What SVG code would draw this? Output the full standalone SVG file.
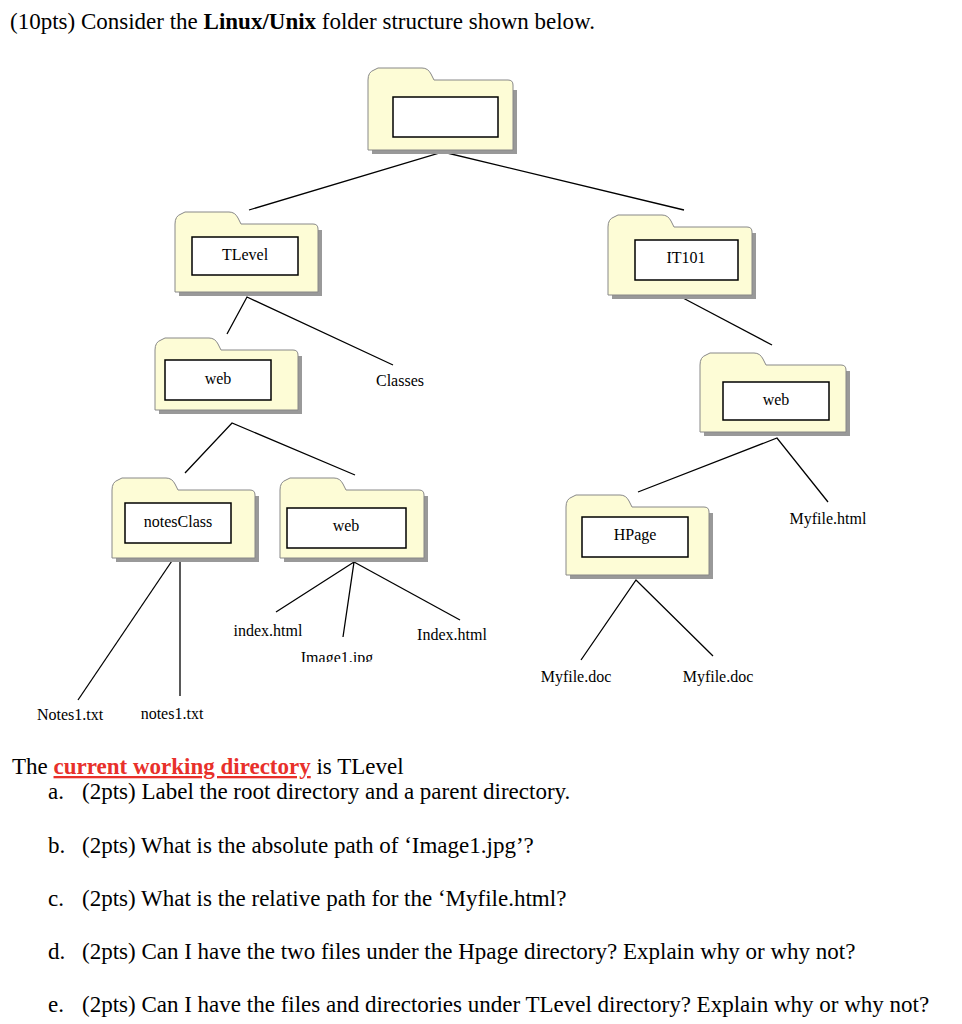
<svg xmlns="http://www.w3.org/2000/svg" width="962" height="1024" viewBox="0 0 962 1024">
<style>
.f{fill:#fdfcd6;stroke:#888;stroke-width:1}
.s{fill:#999}
.b{fill:#fff;stroke:#000;stroke-width:1.5}
.t{font-family:"Liberation Serif",serif;font-size:16px;fill:#000}
.q{font-family:"Liberation Serif",serif;font-size:23px;fill:#000}
#c line,#c polyline{stroke:#000;stroke-width:1.3;fill:none}
</style>
<defs>
<clipPath id="cl"><rect x="280" y="640" width="120" height="22"/></clipPath>
</defs>
<rect width="962" height="1024" fill="#fff"/>
<text class="q" x="10" y="29">(10pts) Consider the <tspan font-weight="bold">Linux/Unix</tspan> folder structure shown below.</text>
<g id="c">
<polyline points="249,210 443,152 684,210"/>
<polyline points="227,334 247,297 393,365"/>
<line x1="683" y1="298" x2="772" y2="345"/>
<polyline points="185,473 232,423 355,475"/>
<polyline points="638,492 777,438 828,502"/>
<line x1="78" y1="700" x2="180" y2="549"/>
<line x1="180" y1="549" x2="180" y2="696"/>
<polyline points="276,612 354,562 343,637"/>
<line x1="354" y1="562" x2="460" y2="620"/>
<polyline points="581,660 636,580 713,656"/>
</g>
<g id="root"><path class="s" d="M372,90 h145 v64 h-145z"/><path class="f" d="M368,150 V80 Q368,72 374,70 L378,68 H422 Q428,68 431,74 L434,80 H508 Q513,80 513,85 V150 Z"/><rect class="b" x="393" y="97" width="105" height="40"/></g>
<g id="tlevel"><path class="s" d="M179,230 h143 v66 h-143z"/><path class="f" d="M175,292 V224 Q175,216 181,214 L185,212 H229 Q235,212 238,218 L241,224 H313 Q318,224 318,229 V292 Z"/><rect class="b" x="192" y="237" width="106" height="38"/><text class="t" x="245" y="260" text-anchor="middle">TLevel</text></g>
<g id="it101"><path class="s" d="M612,233 h144 v66 h-144z"/><path class="f" d="M608,295 V227 Q608,219 614,217 L618,215 H662 Q668,215 671,221 L674,227 H747 Q752,227 752,232 V295 Z"/><rect class="b" x="635" y="240" width="103" height="40"/><text class="t" x="686" y="263" text-anchor="middle">IT101</text></g>
<g id="web1"><path class="s" d="M159,356 h143 v58 h-143z"/><path class="f" d="M155,410 V350 Q155,342 161,340 L165,338 H209 Q215,338 218,344 L221,350 H293 Q298,350 298,355 V410 Z"/><rect class="b" x="165" y="360" width="106" height="40"/><text class="t" x="218" y="384" text-anchor="middle">web</text></g>
<text class="t" x="400" y="386" text-anchor="middle">Classes</text>
<g id="web2"><path class="s" d="M704,371 h146 v65 h-146z"/><path class="f" d="M700,432 V365 Q700,357 706,355 L710,353 H754 Q760,353 763,359 L766,365 H841 Q846,365 846,370 V432 Z"/><rect class="b" x="723" y="382" width="106" height="38"/><text class="t" x="776" y="405" text-anchor="middle">web</text></g>
<text class="t" x="828" y="524" text-anchor="middle">Myfile.html</text>
<g id="notesclass"><path class="s" d="M116,496 h143 v66 h-143z"/><path class="f" d="M112,558 V490 Q112,482 118,480 L122,478 H166 Q172,478 175,484 L178,490 H250 Q255,490 255,495 V558 Z"/><rect class="b" x="125" y="503" width="106" height="40"/><text class="t" x="178" y="527" text-anchor="middle">notesClass</text></g>
<g id="web3"><path class="s" d="M284,496 h144 v66 h-144z"/><path class="f" d="M280,558 V490 Q280,482 286,480 L290,478 H334 Q340,478 343,484 L346,490 H419 Q424,490 424,495 V558 Z"/><rect class="b" x="287" y="508" width="119" height="40"/><text class="t" x="346" y="531" text-anchor="middle">web</text></g>
<g id="hpage"><path class="s" d="M570,513 h143 v66 h-143z"/><path class="f" d="M566,575 V507 Q566,499 572,497 L576,495 H620 Q626,495 629,501 L632,507 H704 Q709,507 709,512 V575 Z"/><rect class="b" x="582" y="517" width="106" height="40"/><text class="t" x="635" y="540" text-anchor="middle">HPage</text></g>
<text class="t" x="268" y="636" text-anchor="middle">index.html</text>
<text class="t" x="337" y="663" text-anchor="middle" clip-path="url(#cl)">Image1.jpg</text>
<text class="t" x="452" y="640" text-anchor="middle">Index.html</text>
<text class="t" x="576" y="682" text-anchor="middle">Myfile.doc</text>
<text class="t" x="718" y="682" text-anchor="middle">Myfile.doc</text>
<text class="t" x="70" y="720" text-anchor="middle">Notes1.txt</text>
<text class="t" x="172" y="719" text-anchor="middle">notes1.txt</text>
<text class="q" x="12" y="774">The <tspan fill="#e8302a" font-weight="bold" text-decoration="underline">current working directory</tspan> is TLevel</text>
<g class="q">
<text class="q" x="48" y="799">a.</text><text class="q" x="82" y="799">(2pts) Label the root directory and a parent directory.</text>
<text class="q" x="48" y="853">b.</text><text class="q" x="82" y="853">(2pts) What is the absolute path of ‘Image1.jpg’?</text>
<text class="q" x="48" y="906">c.</text><text class="q" x="82" y="906">(2pts) What is the relative path for the ‘Myfile.html?</text>
<text class="q" x="48" y="959">d.</text><text class="q" x="82" y="959">(2pts) Can I have the two files under the Hpage directory? Explain why or why not?</text>
<text class="q" x="48" y="1012">e.</text><text class="q" x="82" y="1012">(2pts) Can I have the files and directories under TLevel directory? Explain why or why not?</text>
</g>
</svg>
